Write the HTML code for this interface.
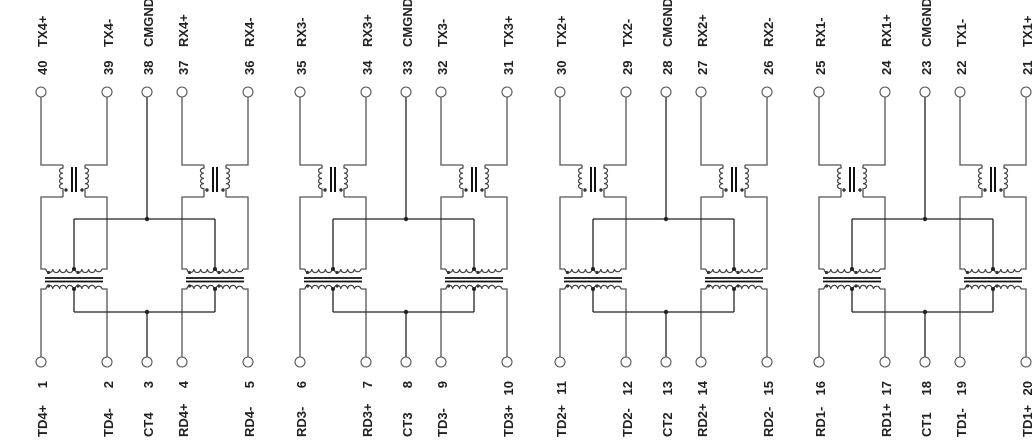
<!DOCTYPE html>
<html><head><meta charset="utf-8"><style>
html,body{margin:0;padding:0;background:#fff;}
svg{display:block;}
text{font-family:"Liberation Sans",Arial,sans-serif;font-weight:bold;font-size:13px;fill:#222;}
</style></head><body>
<svg width="1035" height="447" viewBox="0 0 1035 447" xmlns="http://www.w3.org/2000/svg">
<defs>
<g id="pair">
  <path d="M41,97 V165 H63 M107,97 V165 H85 M63,197 H41 V269 H46 M85,197 H107 V269 H102 M46,289 H41 V357 M102,289 H107 V357" fill="none" stroke="#555" stroke-width="1.3"/>
  <path d="M63,165 V168 a3.5,2.6 0 0 0 0,5.2 a3.5,2.6 0 0 0 0,5.2 a3.5,2.6 0 0 0 0,5.2 a3.5,2.6 0 0 0 0,5.2 V197" fill="none" stroke="#444" stroke-width="1.2"/>
  <path d="M85,165 V168 a3.5,2.6 0 0 1 0,5.2 a3.5,2.6 0 0 1 0,5.2 a3.5,2.6 0 0 1 0,5.2 a3.5,2.6 0 0 1 0,5.2 V197" fill="none" stroke="#444" stroke-width="1.2"/>
  <path d="M72,167 V192 M76,167 V192" stroke="#111" stroke-width="2"/>
  <circle cx="66" cy="190" r="1.7" fill="#333"/><circle cx="82" cy="190" r="1.7" fill="#333"/>
  <path d="M46,269 a3.4,3.6 0 0 0 6.8,0 a3.4,3.6 0 0 0 6.8,0 a3.4,3.6 0 0 0 6.8,0 a3.4,3.6 0 0 0 6.8,0 M75,269 a3.4,3.6 0 0 0 6.8,0 a3.4,3.6 0 0 0 6.8,0 a3.4,3.6 0 0 0 6.8,0 a3.4,3.6 0 0 0 6.6,0" fill="none" stroke="#444" stroke-width="1.2"/>
  <path d="M46,289 a3.4,3.6 0 0 1 6.8,0 a3.4,3.6 0 0 1 6.8,0 a3.4,3.6 0 0 1 6.8,0 a3.4,3.6 0 0 1 6.8,0 M75,289 a3.4,3.6 0 0 1 6.8,0 a3.4,3.6 0 0 1 6.8,0 a3.4,3.6 0 0 1 6.8,0 a3.4,3.6 0 0 1 6.6,0" fill="none" stroke="#444" stroke-width="1.2"/>
  <path d="M45,278 H103 M45,281.5 H103" stroke="#111" stroke-width="1.8"/>
  <circle cx="48.5" cy="272.5" r="1.6" fill="#333"/><circle cx="78" cy="272.5" r="1.6" fill="#333"/>
  <circle cx="48.5" cy="286" r="1.6" fill="#333"/><circle cx="78" cy="286" r="1.6" fill="#333"/>
  <path d="M74,219 V269 M74,289 V312" stroke="#222" stroke-width="1.3"/>
  <circle cx="74" cy="269" r="2" fill="#222"/><circle cx="74" cy="289" r="2" fill="#222"/>
</g>
<g id="chan">
  <use href="#pair"/>
  <use href="#pair" transform="translate(141,0)"/>
  <path d="M147,97 V219 M74,219 H215 M147,357 V312 M74,312 H215" fill="none" stroke="#222" stroke-width="1.3"/>
  <circle cx="147" cy="219" r="2.2" fill="#222"/><circle cx="147" cy="312" r="2.2" fill="#222"/>
  <g fill="#fff" stroke="#555" stroke-width="1.1">
    <circle cx="41" cy="92" r="5"/><circle cx="107" cy="92" r="5"/><circle cx="147" cy="92" r="5"/><circle cx="182" cy="92" r="5"/><circle cx="248" cy="92" r="5"/>
    <circle cx="41" cy="362" r="5"/><circle cx="107" cy="362" r="5"/><circle cx="147" cy="362" r="5"/><circle cx="182" cy="362" r="5"/><circle cx="248" cy="362" r="5"/>
  </g>
</g>
</defs>
<use href="#chan"/>
<use href="#chan" transform="translate(259,0)"/>
<use href="#chan" transform="translate(519,0)"/>
<use href="#chan" transform="translate(778,0)"/>

<g text-anchor="start">
<text transform="translate(47,75) rotate(-90)">40</text><text transform="translate(47,47) rotate(-90)">TX4+</text>
<text transform="translate(113,75) rotate(-90)">39</text><text transform="translate(113,47) rotate(-90)">TX4-</text>
<text transform="translate(153,75) rotate(-90)">38</text><text transform="translate(153,47) rotate(-90)">CMGND</text>
<text transform="translate(188,75) rotate(-90)">37</text><text transform="translate(188,47) rotate(-90)">RX4+</text>
<text transform="translate(254,75) rotate(-90)">36</text><text transform="translate(254,47) rotate(-90)">RX4-</text>

<text transform="translate(306,75) rotate(-90)">35</text><text transform="translate(306,47) rotate(-90)">RX3-</text>
<text transform="translate(372,75) rotate(-90)">34</text><text transform="translate(372,47) rotate(-90)">RX3+</text>
<text transform="translate(412,75) rotate(-90)">33</text><text transform="translate(412,47) rotate(-90)">CMGND</text>
<text transform="translate(447,75) rotate(-90)">32</text><text transform="translate(447,47) rotate(-90)">TX3-</text>
<text transform="translate(513,75) rotate(-90)">31</text><text transform="translate(513,47) rotate(-90)">TX3+</text>

<text transform="translate(566,75) rotate(-90)">30</text><text transform="translate(566,47) rotate(-90)">TX2+</text>
<text transform="translate(632,75) rotate(-90)">29</text><text transform="translate(632,47) rotate(-90)">TX2-</text>
<text transform="translate(672,75) rotate(-90)">28</text><text transform="translate(672,47) rotate(-90)">CMGND</text>
<text transform="translate(707,75) rotate(-90)">27</text><text transform="translate(707,47) rotate(-90)">RX2+</text>
<text transform="translate(773,75) rotate(-90)">26</text><text transform="translate(773,47) rotate(-90)">RX2-</text>

<text transform="translate(825,75) rotate(-90)">25</text><text transform="translate(825,47) rotate(-90)">RX1-</text>
<text transform="translate(891,75) rotate(-90)">24</text><text transform="translate(891,47) rotate(-90)">RX1+</text>
<text transform="translate(931,75) rotate(-90)">23</text><text transform="translate(931,47) rotate(-90)">CMGND</text>
<text transform="translate(966,75) rotate(-90)">22</text><text transform="translate(966,47) rotate(-90)">TX1-</text>
<text transform="translate(1032,75) rotate(-90)">21</text><text transform="translate(1032,47) rotate(-90)">TX1+</text>
</g>

<g>
<text transform="translate(47,437) rotate(-90)">TD4+</text><text text-anchor="end" transform="translate(47,381) rotate(-90)">1</text>
<text transform="translate(113,437) rotate(-90)">TD4-</text><text text-anchor="end" transform="translate(113,381) rotate(-90)">2</text>
<text transform="translate(153,437) rotate(-90)">CT4</text><text text-anchor="end" transform="translate(153,381) rotate(-90)">3</text>
<text transform="translate(188,437) rotate(-90)">RD4+</text><text text-anchor="end" transform="translate(188,381) rotate(-90)">4</text>
<text transform="translate(254,437) rotate(-90)">RD4-</text><text text-anchor="end" transform="translate(254,381) rotate(-90)">5</text>

<text transform="translate(306,437) rotate(-90)">RD3-</text><text text-anchor="end" transform="translate(306,381) rotate(-90)">6</text>
<text transform="translate(372,437) rotate(-90)">RD3+</text><text text-anchor="end" transform="translate(372,381) rotate(-90)">7</text>
<text transform="translate(412,437) rotate(-90)">CT3</text><text text-anchor="end" transform="translate(412,381) rotate(-90)">8</text>
<text transform="translate(447,437) rotate(-90)">TD3-</text><text text-anchor="end" transform="translate(447,381) rotate(-90)">9</text>
<text transform="translate(513,437) rotate(-90)">TD3+</text><text text-anchor="end" transform="translate(513,381) rotate(-90)">10</text>

<text transform="translate(566,437) rotate(-90)">TD2+</text><text text-anchor="end" transform="translate(566,381) rotate(-90)">11</text>
<text transform="translate(632,437) rotate(-90)">TD2-</text><text text-anchor="end" transform="translate(632,381) rotate(-90)">12</text>
<text transform="translate(672,437) rotate(-90)">CT2</text><text text-anchor="end" transform="translate(672,381) rotate(-90)">13</text>
<text transform="translate(707,437) rotate(-90)">RD2+</text><text text-anchor="end" transform="translate(707,381) rotate(-90)">14</text>
<text transform="translate(773,437) rotate(-90)">RD2-</text><text text-anchor="end" transform="translate(773,381) rotate(-90)">15</text>

<text transform="translate(825,437) rotate(-90)">RD1-</text><text text-anchor="end" transform="translate(825,381) rotate(-90)">16</text>
<text transform="translate(891,437) rotate(-90)">RD1+</text><text text-anchor="end" transform="translate(891,381) rotate(-90)">17</text>
<text transform="translate(931,437) rotate(-90)">CT1</text><text text-anchor="end" transform="translate(931,381) rotate(-90)">18</text>
<text transform="translate(966,437) rotate(-90)">TD1-</text><text text-anchor="end" transform="translate(966,381) rotate(-90)">19</text>
<text transform="translate(1032,437) rotate(-90)">TD1+</text><text text-anchor="end" transform="translate(1032,381) rotate(-90)">20</text>
</g>
</svg>
</body></html>
